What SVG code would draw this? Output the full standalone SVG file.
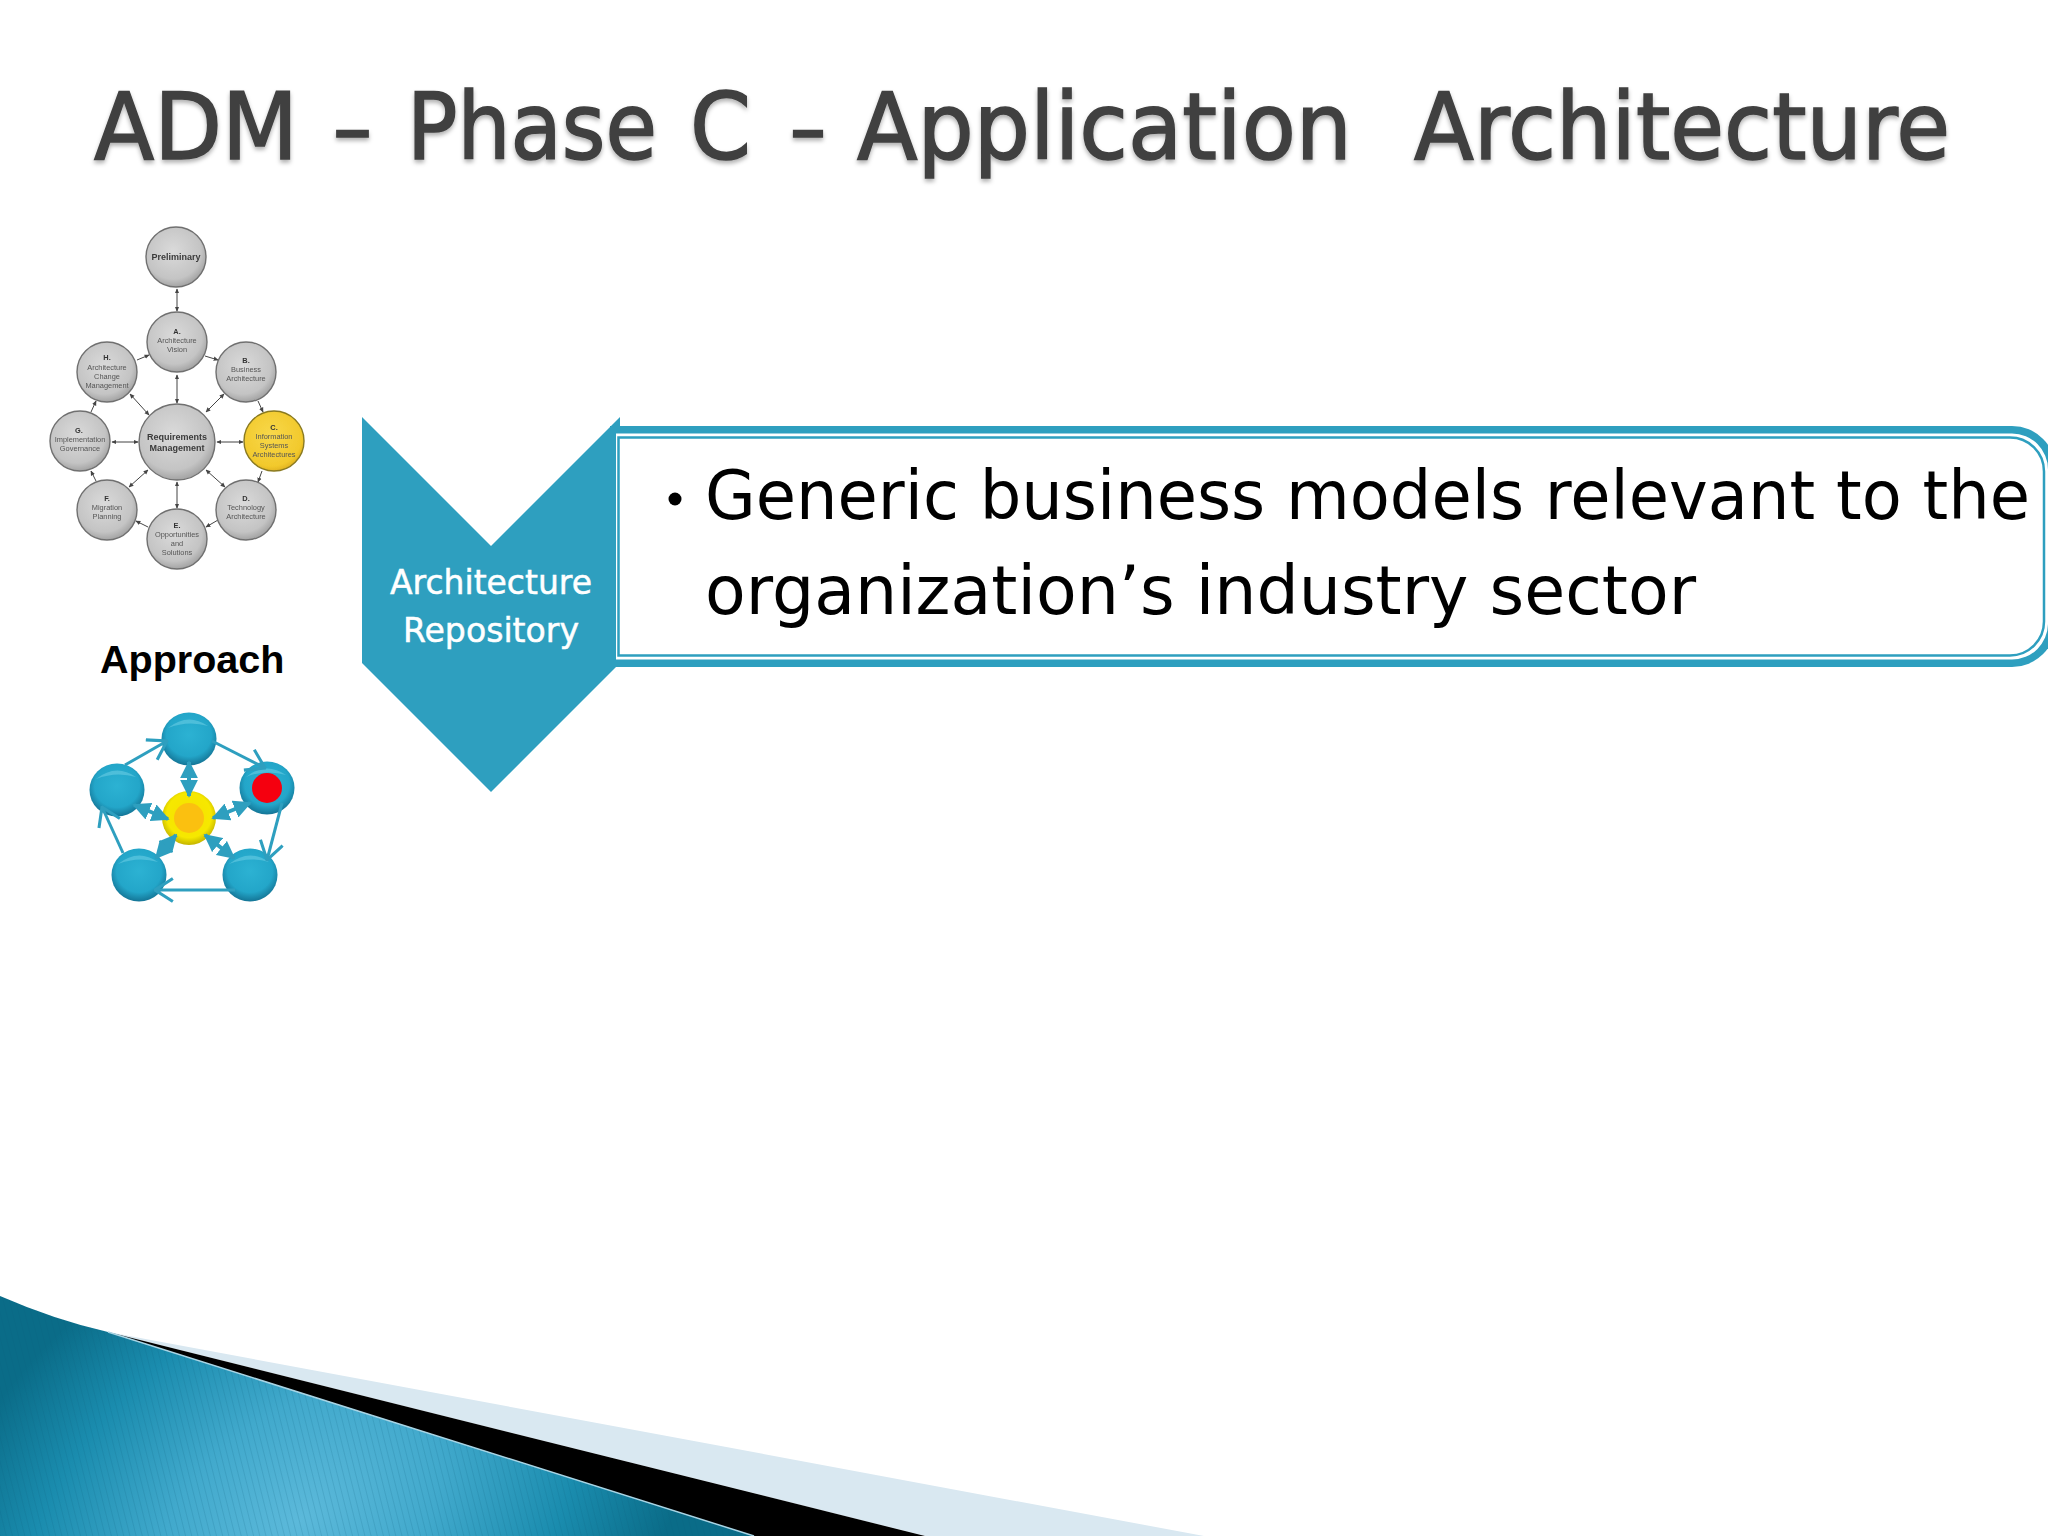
<svg xmlns="http://www.w3.org/2000/svg" width="2048" height="1536" viewBox="0 0 2048 1536">
<style>
.title{font-family:"DejaVu Sans",sans-serif;font-size:92px;fill:#404040;stroke:#404040;stroke-width:1.6;filter:url(#shadow)}
.body{font-family:"DejaVu Sans",sans-serif;font-size:68px;fill:#000}
.chev{font-family:"DejaVu Sans",sans-serif;font-size:34px;fill:#fff;stroke:#fff;stroke-width:.5;text-anchor:middle}
.n{fill:url(#grey);stroke:#707070;stroke-width:1.4}
.t{font-family:"Liberation Sans",sans-serif;font-size:7.4px;fill:#555;text-anchor:middle}
.h{font-family:"Liberation Sans",sans-serif;font-size:7.4px;fill:#333;text-anchor:middle;font-weight:bold}
.b{font-family:"Liberation Sans",sans-serif;font-size:9px;fill:#3a3a3a;text-anchor:middle;font-weight:bold}
.g1 line{stroke:#444;stroke-width:1;marker-end:url(#ah)}
.g1 line.d{marker-start:url(#ahs)}
.ring line{stroke:#2e9fbf;stroke-width:3;marker-end:url(#open)}
.spoke line{stroke:#2e9fbf;stroke-width:4;marker-start:url(#solids);marker-end:url(#solid)}
.s{fill:url(#sph)}
.hl{fill:#7fd6ea;opacity:.45}
</style>
<defs>
<filter id="shadow" x="-5%" y="-20%" width="110%" height="150%"><feDropShadow dx="0" dy="3" stdDeviation="2" flood-color="#000" flood-opacity=".3"/></filter>
<filter id="soft" x="-5%" y="-5%" width="110%" height="110%"><feGaussianBlur stdDeviation=".35"/></filter>
<radialGradient id="grey" cx=".45" cy=".4" r=".65"><stop offset="0" stop-color="#dadada"/><stop offset=".72" stop-color="#c4c4c4"/><stop offset="1" stop-color="#989898"/></radialGradient>
<radialGradient id="gold" cx=".45" cy=".4" r=".65"><stop offset="0" stop-color="#f8d84a"/><stop offset=".8" stop-color="#f2c92c"/><stop offset="1" stop-color="#d9a91c"/></radialGradient>
<radialGradient id="sph" cx=".5" cy=".42" r=".6"><stop offset="0" stop-color="#2cb2d3"/><stop offset=".68" stop-color="#23a6c9"/><stop offset="1" stop-color="#126f90"/></radialGradient>
<radialGradient id="yel" cx=".5" cy=".45" r=".55"><stop offset="0" stop-color="#f6e000"/><stop offset=".75" stop-color="#f6e800"/><stop offset="1" stop-color="#c4b400"/></radialGradient>
<radialGradient id="sw" gradientUnits="userSpaceOnUse" cx="0" cy="0" r="1" gradientTransform="translate(300 1520) rotate(52) scale(300 450)"><stop offset="0" stop-color="#5cb9da"/><stop offset=".35" stop-color="#41a9cc"/><stop offset=".7" stop-color="#1a8cae"/><stop offset="1" stop-color="#0a6c88"/></radialGradient>
<pattern id="stripes" width="6" height="6" patternUnits="userSpaceOnUse" patternTransform="rotate(-14)"><rect width="1" height="6" fill="#0a5f7c" opacity=".16"/></pattern>
<marker id="ah" viewBox="0 0 8 8" refX="7" refY="4" markerWidth="5" markerHeight="5" orient="auto"><path d="M0 .5L8 4L0 7.5z" fill="#444"/></marker>
<marker id="ahs" viewBox="0 0 8 8" refX="1" refY="4" markerWidth="5" markerHeight="5" orient="auto"><path d="M8 .5L0 4L8 7.5z" fill="#444"/></marker>
<marker id="open" viewBox="0 0 20 20" refX="19" refY="10" markerWidth="8.500" markerHeight="8.500" orient="auto"><path d="M5 1L19 10L5 19" fill="none" stroke="#2e9fbf" stroke-width="2.400"/></marker>
<marker id="solid" viewBox="0 0 10 10" refX="9" refY="5" markerWidth="4.500" markerHeight="4.500" orient="auto"><path d="M0 0L10 5L0 10z" fill="#2e9fbf"/></marker>
<marker id="solids" viewBox="0 0 10 10" refX="1" refY="5" markerWidth="4.500" markerHeight="4.500" orient="auto"><path d="M10 0L0 5L10 10z" fill="#2e9fbf"/></marker>
</defs>
<rect width="2048" height="1536" fill="#fff"/>

<g id="swoosh">
<path d="M167 1343L1204 1536H925L108 1332z" fill="#d9e8f1"/>
<path d="M108 1332L925 1536H754z" fill="#000"/>
<path d="M0 1296Q55 1320 108 1332L754 1536H0z" fill="url(#sw)"/>
<path d="M0 1296Q55 1320 108 1332L754 1536H0z" fill="url(#stripes)"/>
<path d="M108 1332L754 1536" stroke="#a8d4e4" stroke-width="1.500" fill="none"/>
</g>

<text id="title" class="title" y="159"><tspan x="94" textLength="204" lengthAdjust="spacingAndGlyphs">ADM</tspan> <tspan x="333" textLength="39" lengthAdjust="spacingAndGlyphs">–</tspan> <tspan x="407" textLength="250" lengthAdjust="spacingAndGlyphs">Phase</tspan> <tspan x="690" textLength="61" lengthAdjust="spacingAndGlyphs">C</tspan> <tspan x="790" textLength="36" lengthAdjust="spacingAndGlyphs">–</tspan> <tspan x="857" textLength="495" lengthAdjust="spacingAndGlyphs">Application</tspan> <tspan x="1414" textLength="536" lengthAdjust="spacingAndGlyphs">Architecture</tspan></text>

<g id="adm-figure" filter="url(#soft)">
<g id="adm-connectors" class="g1">
<line class="d" x1="177" y1="289" x2="177" y2="311"/>
<line class="d" x1="177" y1="375" x2="177" y2="403"/>
<line class="d" x1="177" y1="482" x2="177" y2="508"/>
<line class="d" x1="138" y1="442" x2="112" y2="442"/>
<line class="d" x1="217" y1="442" x2="243" y2="442"/>
<line class="d" x1="149" y1="415" x2="130" y2="394"/>
<line class="d" x1="206" y1="412" x2="224" y2="394"/>
<line class="d" x1="148" y1="470" x2="129" y2="487"/>
<line class="d" x1="206" y1="470" x2="225" y2="487"/>
<line x1="137" y1="360" x2="149" y2="355"/>
<line x1="205" y1="356" x2="218" y2="360"/>
<line x1="258" y1="401" x2="263" y2="412"/>
<line x1="262" y1="471" x2="258" y2="482"/>
<line x1="218" y1="520" x2="206" y2="527"/>
<line x1="148" y1="527" x2="136" y2="521"/>
<line x1="96" y1="481" x2="91" y2="471"/>
<line x1="91" y1="412" x2="96" y2="401"/>
</g>
<g id="node-preliminary"><circle class="n" cx="176" cy="257" r="30"/><text class="b" x="176" y="260">Preliminary</text></g>
<g id="node-a"><circle class="n" cx="177" cy="342" r="30"/><text class="h" x="177" y="334">A.</text><text class="t" x="177" y="343">Architecture</text><text class="t" x="177" y="352">Vision</text></g>
<g id="node-h"><circle class="n" cx="107" cy="372" r="30"/><text class="h" x="107" y="360">H.</text><text class="t" x="107" y="370">Architecture</text><text class="t" x="107" y="379">Change</text><text class="t" x="107" y="388">Management</text></g>
<g id="node-b"><circle class="n" cx="246" cy="372" r="30"/><text class="h" x="246" y="363">B.</text><text class="t" x="246" y="372">Business</text><text class="t" x="246" y="381">Architecture</text></g>
<g id="node-req"><circle class="n" cx="177" cy="442" r="38"/><text class="b" x="177" y="440">Requirements</text><text class="b" x="177" y="451">Management</text></g>
<g id="node-g"><circle class="n" cx="80" cy="441" r="30"/><text class="h" x="79" y="433">G.</text><text class="t" x="80" y="442">Implementation</text><text class="t" x="80" y="451">Governance</text></g>
<g id="node-c"><circle cx="274" cy="441" r="30" fill="url(#gold)" stroke="#8a7a20" stroke-width="1.400"/><text class="h" x="274" y="430">C.</text><text class="t" x="274" y="439">Information</text><text class="t" x="274" y="448">Systems</text><text class="t" x="274" y="457">Architectures</text></g>
<g id="node-f"><circle class="n" cx="107" cy="510" r="30"/><text class="h" x="107" y="501">F.</text><text class="t" x="107" y="510">Migration</text><text class="t" x="107" y="519">Planning</text></g>
<g id="node-d"><circle class="n" cx="246" cy="510" r="30"/><text class="h" x="246" y="501">D.</text><text class="t" x="246" y="510">Technology</text><text class="t" x="246" y="519">Architecture</text></g>
<g id="node-e"><circle class="n" cx="177" cy="539" r="30"/><text class="h" x="177" y="528">E.</text><text class="t" x="177" y="537">Opportunities</text><text class="t" x="177" y="546">and</text><text class="t" x="177" y="555">Solutions</text></g>
</g>

<text id="approach" x="100" y="673" font-family="'Liberation Sans',sans-serif" font-weight="bold" font-size="39.500" fill="#000">Approach</text>

<g id="sphere-top"><ellipse class="s" cx="189" cy="739" rx="27.500" ry="26.500"/><path class="hl" d="M168 728Q188 712 208 726Q188 720 168 728z"/></g>
<g id="sphere-left"><ellipse class="s" cx="117" cy="790" rx="27.500" ry="26.500"/><path class="hl" d="M96 779Q116 763 136 777Q116 771 96 779z"/></g>
<g id="sphere-right"><ellipse class="s" cx="267" cy="788" rx="27.500" ry="26.500"/><path class="hl" d="M246 777Q266 761 286 775Q266 769 246 777z"/><circle cx="267" cy="788" r="15" fill="#f5000f"/></g>
<g id="sphere-bl"><ellipse class="s" cx="139" cy="875" rx="27.500" ry="26.500"/><path class="hl" d="M118 864Q138 848 158 862Q138 856 118 864z"/></g>
<g id="sphere-br"><ellipse class="s" cx="250" cy="875" rx="27.500" ry="26.500"/><path class="hl" d="M229 864Q249 848 269 862Q249 856 229 864z"/></g>
<g id="sphere-center"><circle cx="189" cy="818" r="27" fill="url(#yel)"/><circle cx="189" cy="818" r="15" fill="#fbc010"/></g>
<g id="approach-connectors">
<g class="ring">
<line x1="125" y1="765" x2="167" y2="741"/>
<line x1="212" y1="741" x2="265" y2="768"/>
<line x1="282" y1="803" x2="267" y2="860"/>
<line x1="235" y1="890" x2="155" y2="890"/>
<line x1="123" y1="853" x2="102" y2="807"/>
</g>
<g class="spoke">
<line x1="189" y1="762" x2="189" y2="796"/>
<line x1="134" y1="805" x2="168" y2="819"/>
<line x1="250" y1="803" x2="213" y2="818"/>
<line x1="176" y1="835" x2="156" y2="858"/>
<line x1="205" y1="835" x2="234" y2="858"/>
</g>
</g>

<g id="repo-box">
<path d="M610 426H2012A44 44 0 0 1 2056 470V623A44 44 0 0 1 2012 667H610z" fill="#2e9fbf"/>
<path d="M616 433.500H2012A36 36 0 0 1 2048 469.500V624A36 36 0 0 1 2012 659.500H616z" fill="#fff"/>
<path d="M618.500 437.500H2010A34 34 0 0 1 2044 471.500V621A34 34 0 0 1 2010 655.500H618.500z" fill="#fff" stroke="#2e9fbf" stroke-width="2.500"/>
<circle cx="675" cy="499" r="6.500" fill="#000"/>
<text class="body" x="705" y="519" textLength="1325" lengthAdjust="spacingAndGlyphs">Generic business models relevant to the</text>
<text class="body" x="705" y="614" textLength="991" lengthAdjust="spacingAndGlyphs">organization’s industry sector</text>
</g>
<g id="repo-chevron">
<path d="M362 417L491 546L620 417V426H616V667L491 792L362 663z" fill="#2e9fbf"/>
<text class="chev" x="491" y="594" textLength="202" lengthAdjust="spacingAndGlyphs">Architecture</text>
<text class="chev" x="491" y="642" textLength="176" lengthAdjust="spacingAndGlyphs">Repository</text>
</g>
</svg>
